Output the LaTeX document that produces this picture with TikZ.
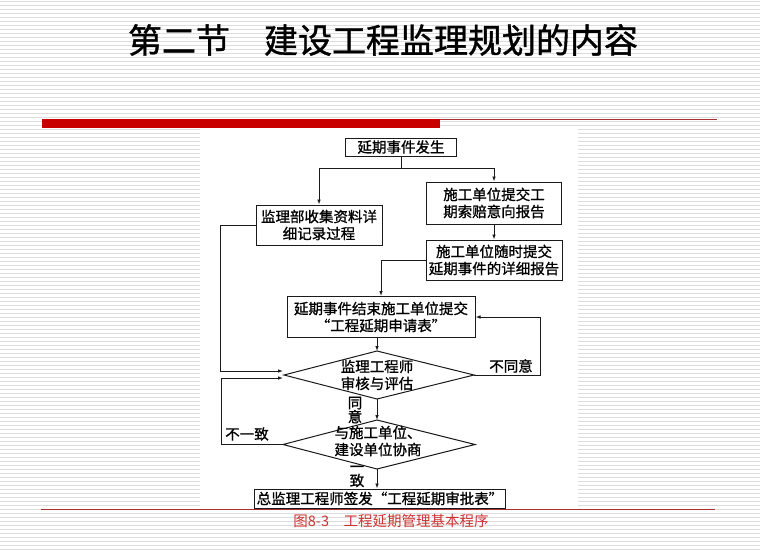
\documentclass[tikz,border=0pt]{standalone}
\usepackage{fontspec}
\setmainfont{Noto Sans CJK SC}
\newfontfamily\heavyfont{Noto Sans CJK SC}[FakeBold=1.0]
\newfontfamily\titlefont{Noto Sans CJK SC}[FakeBold=1.2]
\usetikzlibrary{arrows.meta,calc}
\definecolor{stripe}{HTML}{DDDDDD}
\definecolor{barred}{HTML}{C80000}
\definecolor{linered}{HTML}{A83232}
\definecolor{capred}{HTML}{CC3333}
\definecolor{ink}{HTML}{1A1A1A}
\begin{document}
\begin{tikzpicture}[x=1pt,y=-1pt,
  box/.style={draw=ink, line width=1pt, fill=white, align=center,
    font=\heavyfont\fontsize{14.5}{17}\selectfont, inner sep=0pt},
  lbl/.style={font=\heavyfont\fontsize{14.5}{14}\selectfont, inner sep=0pt, align=center},
  conn/.style={line width=0.9pt, draw=ink},
  arr/.style={conn, -{Latex[length=5pt,width=3.6pt]}},
  dia/.style={draw=ink, line width=1pt},
]
\useasboundingbox (0,0) rectangle (760,551);
\fill[white] (0,0) rectangle (760,551);
\foreach \i in {0,...,137} \draw[stripe, line width=1.1pt] (0,\i*4+1.5) -- (760,\i*4+1.5);
\fill[white] (200,128) rectangle (578,507);
\fill[barred] (42,119) rectangle (440,128);
\draw[linered, line width=0.8pt] (440,119.5) -- (717,119.5);
\draw[linered, line width=0.8pt] (41,509) -- (715,509);
\node[font=\titlefont\fontsize{34}{40}\selectfont, inner sep=0pt] (title) at (383,40) {第二节　建设工程监理规划的内容};

% boxes
\node[box, minimum width=111pt, minimum height=18pt] (b1) at (401,147) {延期事件发生};
\node[box, minimum width=126pt, minimum height=40pt] (bl) at (319,225) {监理部收集资料详\\细记录过程};
\node[box, minimum width=135pt, minimum height=42pt] (br1) at (494,203) {施工单位提交工\\期索赔意向报告};
\node[box, minimum width=136pt, minimum height=40pt] (br2) at (494,260) {施工单位随时提交\\延期事件的详细报告};
\node[box, minimum width=188pt, minimum height=41pt] (b3) at (381,317) {延期事件结束施工单位提交\\“工程延期申请表”};
\node[box, minimum width=251pt, minimum height=19pt] (bf) at (380,498.5) {总监理工程师签发“工程延期审批表”};

% diamonds
\coordinate (d1t) at (377,351);
\coordinate (d1b) at (377,399);
\coordinate (d1l) at (284,375);
\coordinate (d1r) at (474,375);
\draw[dia] (d1t) -- (d1r) -- (d1b) -- (d1l) -- cycle;
\node[box, draw=none, fill=none] (d1) at (377,375) {监理工程师\\审核与评估};

\coordinate (d2t) at (377,420);
\coordinate (d2b) at (377,469);
\coordinate (d2l) at (283,444.5);
\coordinate (d2r) at (475,444.5);
\draw[dia] (d2t) -- (d2r) -- (d2b) -- (d2l) -- cycle;
\node[box, draw=none, fill=none] (d2) at (378,441) {与施工单位、\\建设单位协商};

% connectors
\draw[conn] (b1.south) -- ++(0,12) coordinate (split);
\draw[arr] (split) -| (bl.north);
\draw[arr] (split) -| (br1.north);
\draw[arr] (br1.south) -- (br2.north);
\draw[arr] (br2.west) -| (b3.north);
\draw[arr] (b3.south -| d1t) -- (d1t);
\draw[arr] (d1b) -- (d2t);
\draw[arr] (d2b) -- (bf.north -| d2b);

\coordinate (in1) at (283,371);
\coordinate (in2) at (283,378);
\draw[arr] (bl.west) -- ++(-35,0) |- (in1);
\draw[arr] (d2l) -- ++(-62,0) |- (in2);
\draw[arr] (d1r) -- ++(66,0) |- (b3.east);

% labels
\node[lbl] (nty) at (511,366) {不同意};
\node[lbl] (ty) at (355,410) {同\\意};
\node[lbl] (byz) at (247,434) {不一致};
\node[lbl] (yz) at (357,476.5) {一\\致};

\node[font=\fontsize{14.5}{17}\selectfont, text=capred, inner sep=0pt] (cap) at (391,521) {图8-3　工程延期管理基本程序};
\end{tikzpicture}
\end{document}
